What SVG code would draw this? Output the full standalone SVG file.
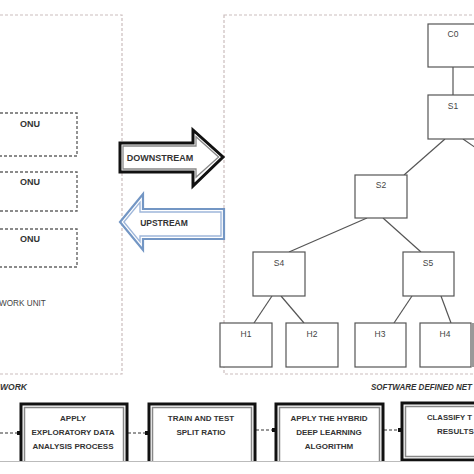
<svg xmlns="http://www.w3.org/2000/svg" width="474" height="474" viewBox="0 0 474 474">
<defs>
<style>
.panel{fill:none;stroke:#cbbdbd;stroke-width:1.2;stroke-dasharray:3 2}
.onu{fill:#fff;stroke:#666;stroke-width:1.4;stroke-dasharray:3 2}
.tb{fill:#fff;stroke:#555;stroke-width:1.2}
.edge{stroke:#555;stroke-width:1.2;fill:none}
.flowo{fill:#fff;stroke:#111;stroke-width:3}
.flowi{fill:none;stroke:#888;stroke-width:1.5}
.fl{stroke:#333;stroke-width:1;stroke-dasharray:3 2;fill:none}
.t{font-family:"Liberation Sans",Arial,sans-serif;fill:#444}
.b{font-weight:bold;fill:#333}
.lab{font-size:8.5px;text-anchor:middle}
.ft{font-family:"Liberation Sans",Arial,sans-serif;font-weight:bold;font-size:8px;fill:#333;text-anchor:middle}
.fs{font-family:"Liberation Sans",Arial,sans-serif;font-weight:bold;font-size:8px;fill:#333;text-anchor:start}
</style>
<marker id="sq" viewBox="0 0 4 4" refX="2" refY="2" markerWidth="4" markerHeight="4" markerUnits="userSpaceOnUse"><rect width="4" height="4" fill="#111"/></marker>
</defs>
<rect width="474" height="474" fill="#fff"/>
<!-- panels -->
<rect class="panel" x="-5" y="15" width="127" height="359"/>
<rect class="panel" x="224" y="15" width="260" height="359"/>
<!-- ONU boxes -->
<g id="onu1"><rect class="onu" x="-5" y="113" width="82" height="43"/><text class="t b" x="30" y="127" font-size="9" text-anchor="middle">ONU</text></g>
<g id="onu2"><rect class="onu" x="-5" y="172" width="82" height="39"/><text class="t b" x="30" y="185" font-size="9" text-anchor="middle">ONU</text></g>
<g id="onu3"><rect class="onu" x="-5" y="229" width="82" height="38"/><text class="t b" x="30" y="242" font-size="9" text-anchor="middle">ONU</text></g>
<text class="t" x="-1" y="306" font-size="8.2">WORK UNIT</text>
<text class="t b" x="0" y="390" font-size="8.5" font-style="italic">WORK</text>
<text class="t b" x="371" y="390" font-size="8.2" font-style="italic" textLength="101" lengthAdjust="spacingAndGlyphs">SOFTWARE DEFINED NET</text>
<!-- arrows -->
<g id="downstream">
<polygon points="120,143 193,143 193,130 223,157 193,186 193,172 120,172" fill="#fff" stroke="#111" stroke-width="3" stroke-linejoin="miter"/>
<polygon points="123,146 196,146 196,136.7 218.6,157 196,177.3 196,169 123,169" fill="none" stroke="#888" stroke-width="1.3"/>
<text class="t b" x="160" y="161" font-size="9" text-anchor="middle">DOWNSTREAM</text>
</g>
<g id="upstream">
<polygon points="224,209 143,209 143,194 120,222 143,250 143,239 224,239" fill="#fff" stroke="#7396c4" stroke-width="2.2"/>
<polygon points="221,212 140,212 140,202.4 123.9,222 140,241.6 140,236 221,236" fill="none" stroke="#9fb7da" stroke-width="1.4"/>
<text class="t b" x="164" y="225.5" font-size="8.5" text-anchor="middle">UPSTREAM</text>
</g>
<!-- tree edges -->
<g id="edges">
<line class="edge" x1="453" y1="67" x2="453" y2="95"/>
<line class="edge" x1="445" y1="139" x2="404" y2="175"/>
<line class="edge" x1="463" y1="139" x2="476" y2="148"/>
<line class="edge" x1="367" y1="218" x2="289" y2="252"/>
<line class="edge" x1="383" y1="218" x2="421" y2="252"/>
<line class="edge" x1="272" y1="296" x2="254" y2="323"/>
<line class="edge" x1="281" y1="296" x2="304" y2="323"/>
<line class="edge" x1="412" y1="296" x2="394" y2="323"/>
<line class="edge" x1="441" y1="296" x2="451" y2="323"/>
</g>
<!-- tree nodes -->
<g id="C0"><rect class="tb" x="428" y="24" width="52" height="43"/><text class="t lab" x="453" y="37">C0</text></g>
<g id="S1"><rect class="tb" x="428" y="95" width="52" height="44"/><text class="t lab" x="453" y="109">S1</text></g>
<g id="S2"><rect class="tb" x="355" y="175" width="52" height="43"/><text class="t lab" x="381" y="188">S2</text></g>
<g id="S4"><rect class="tb" x="253" y="252" width="52" height="44"/><text class="t lab" x="279" y="266">S4</text></g>
<g id="S5"><rect class="tb" x="403" y="252" width="51" height="44"/><text class="t lab" x="428" y="266">S5</text></g>
<g id="H1"><rect class="tb" x="220" y="323" width="52" height="44"/><text class="t lab" x="246" y="337">H1</text></g>
<g id="H2"><rect class="tb" x="286" y="323" width="52" height="44"/><text class="t lab" x="312" y="337">H2</text></g>
<g id="H3"><rect class="tb" x="355" y="323" width="51" height="44"/><text class="t lab" x="380" y="337">H3</text></g>
<g id="H4"><rect class="tb" x="420" y="323" width="51" height="44"/><text class="t lab" x="445" y="337">H4</text></g>
<rect x="471" y="323" width="3" height="44" fill="#999"/>
<!-- flow connectors -->
<g id="flow-connectors">
<line class="fl" x1="0" y1="433" x2="19" y2="433" marker-end="url(#sq)"/>
<line class="fl" x1="128" y1="433" x2="147" y2="433" marker-end="url(#sq)"/>
<line class="fl" x1="256" y1="430" x2="274" y2="430" marker-end="url(#sq)"/>
<line class="fl" x1="384" y1="430" x2="400" y2="430" marker-end="url(#sq)"/>
</g>
<!-- flow boxes -->
<g id="eda"><rect class="flowo" x="21" y="404" width="106" height="62"/><rect class="flowi" x="24.5" y="407.5" width="99" height="60"/>
<text class="ft" x="73" y="421">APPLY</text><text class="ft" x="73" y="435">EXPLORATORY DATA</text><text class="ft" x="73" y="449">ANALYSIS PROCESS</text></g>
<g id="split"><rect class="flowo" x="149" y="404" width="106" height="62"/><rect class="flowi" x="152.5" y="407.5" width="99" height="60"/>
<text class="ft" x="201" y="421">TRAIN AND TEST</text><text class="ft" x="201" y="435">SPLIT RATIO</text></g>
<g id="hybrid"><rect class="flowo" x="276" y="404" width="107" height="62"/><rect class="flowi" x="279.5" y="407.5" width="100" height="60"/>
<text class="ft" x="329" y="421">APPLY THE HYBRID</text><text class="ft" x="329" y="435">DEEP LEARNING</text><text class="ft" x="329" y="449">ALGORITHM</text></g>
<g id="classify"><rect class="flowo" x="402" y="403" width="90" height="57"/><rect class="flowi" x="405.5" y="406.5" width="90" height="50"/>
<text class="fs" x="427" y="420" textLength="45" lengthAdjust="spacingAndGlyphs">CLASSIFY T</text><text class="fs" x="437" y="434">RESULTS</text></g>
<rect x="0" y="462" width="474" height="12" fill="#fff"/>
<line x1="0" y1="461.5" x2="474" y2="461.5" stroke="#bbb" stroke-width="1"/>
</svg>
